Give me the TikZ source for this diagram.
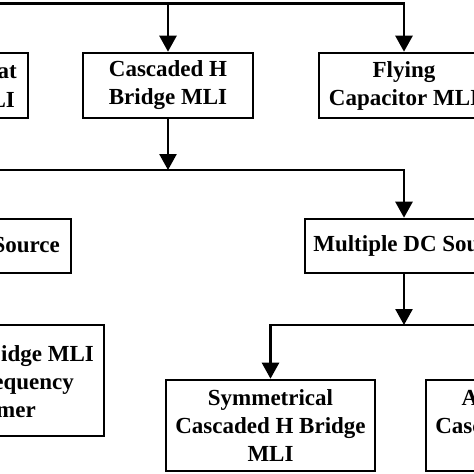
\documentclass[tikz,border=0pt]{standalone}
\usepackage{fontspec}
\setmainfont{Liberation Serif}
\usetikzlibrary{arrows.meta}
\begin{document}
\begin{tikzpicture}[x=1pt,y=-1pt,
  box/.style={draw,line width=2.6pt,inner sep=0pt,align=center,font=\bfseries\fontsize{23}{28}\selectfont},
  lbl/.style={inner sep=0pt,font=\bfseries\fontsize{23}{28}\selectfont},
  conn/.style={line width=2.6pt},
  arr/.style={conn,-{Triangle[width=17pt,length=16pt]}}]
\useasboundingbox (0,0) rectangle (474,474);
\clip (0,0) rectangle (474,474);
% boxes
\node[box,minimum width=180pt,minimum height=65pt] (tl) at (-62,85.5) {};
\node[lbl,anchor=base east] (tlA) at (17,78) {at};
\node[lbl,anchor=base east] (tlB) at (15,107) {LI};
\node[box,minimum width=170pt,minimum height=65pt] (chb) at (168,85.5) {Cascaded H\\Bridge MLI};
\node[box,minimum width=170pt,minimum height=65pt] (fc) at (404,85.5) {Flying\\Capacitor MLI};
\node[box,minimum width=200pt,minimum height=54pt] (src) at (-29,246) {};
\node[lbl,anchor=base east] (srcT) at (60,252) {Source};
\node[box,minimum width=213pt,minimum height=54pt] (mdc) at (411.5,246) {Multiple DC Source};
\node[box,minimum width=270pt,minimum height=111pt] (bl) at (-31,380.5) {};
\node[lbl,anchor=base east] (blA) at (94,361) {idge MLI};
\node[lbl,anchor=base east] (blB) at (74,389) {equency};
\node[lbl,anchor=base east] (blC) at (36,417) {mer};
\node[box,minimum width=209pt,minimum height=91pt] (sym) at (270.5,425.5) {Symmetrical\\Cascaded H Bridge\\MLI};
\node[box,minimum width=209pt,minimum height=91pt] (asym) at (530.5,425.5) {Asymmetrical\\Cascaded H Bridge\\MLI};
% junction coordinates
\coordinate (t0) at (-10,3.5);
\coordinate (j1) at (-10,170);
\coordinate (j2) at (600,325);
% connectors
\draw[arr] (t0) -| (fc.north);
\draw[arr] (chb.north |- t0) -- (chb.north);
\draw[arr] (chb.south) -- (chb.south |- j1);
\draw[arr] (j1) -| (fc.south |- mdc.north);
\draw[arr] (fc.south |- mdc.south) -- (fc.south |- j2);
\draw[arr] (j2) -| (sym.north);
\end{tikzpicture}
\end{document}
